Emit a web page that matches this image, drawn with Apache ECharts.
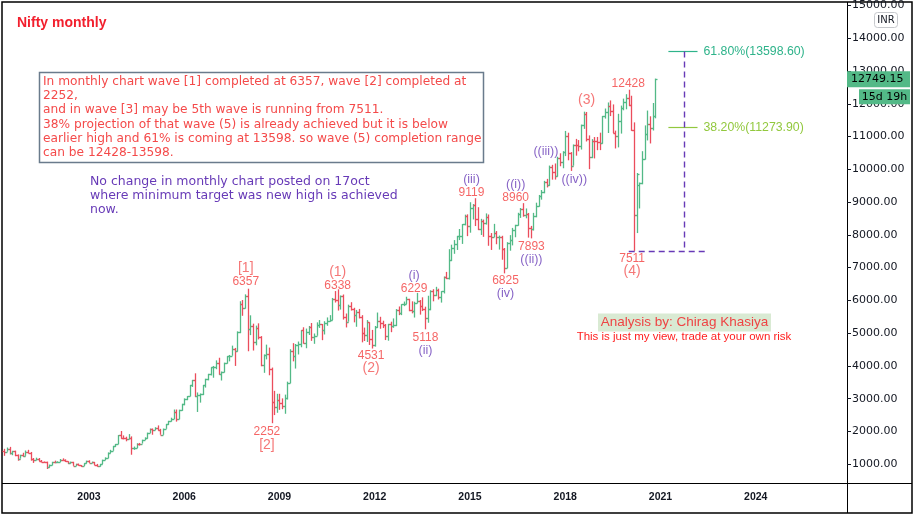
<!DOCTYPE html>
<html><head><meta charset="utf-8">
<script src="https://cdn.jsdelivr.net/npm/echarts@6/dist/echarts.min.js"></script>
<style>html,body{margin:0;padding:0;background:#fff}#c{width:914px;height:515px}</style>
</head><body><div id="c"></div>
<script>
// ---- data: Nifty monthly OHLC, first bar = May 2000, last bar = Nov 2020 ----
const firstMonth = '2000-05';
const opens = [
 1406,1380,1471,1332,1394,1271,1173,1268,
 1263,1371,1352,1148,1126,1167,1107,1073,1053,913,971,1067,
 1059,1075,1142,1129,1084,1028,1058,959,1010,963,951,1026,
 1093,1041,1063,978,934,1006,1134,1185,1356,1418,1555,1615,
 1880,1809,1800,1772,1796,1484,1506,1632,1631,1746,1786,1959,
 2081,2058,2103,2036,1902,2087,2221,2312,2385,2601,2371,2652,
 2837,3001,3074,3403,3558,3071,3128,3143,3414,3588,3745,3955,
 3966,4083,3745,3822,4087,4296,4318,4529,4464,5021,5901,5762,
 6139,5137,5224,4735,5165,4870,4040,4333,4360,3921,2885,2755,
 2959,2874,2763,3021,3474,4449,4291,4636,4662,5084,4712,5033,
 5201,4882,4922,5249,5278,5087,5313,5368,5402,6030,6018,5863,
 6135,5506,5333,5834,5750,5561,5647,5482,5001,4943,5326,4832,
 4624,5199,5385,5296,5248,4924,5279,5229,5259,5703,5620,5880,
 5905,6035,5693,5683,5930,5986,5842,5742,5472,5735,6299,6176,
 6304,6090,6277,6704,6696,7230,7611,7721,7954,7965,8322,8588,
 8283,8809,8902,8491,8182,8434,8369,8533,7971,7949,8066,7935,
 7946,7564,6987,7738,7850,8160,8288,8639,8786,8611,8626,8224,
 8186,8561,8880,9174,9304,9621,9521,10077,9918,9789,10335,10227,
 10531,11028,10493,10114,10739,10736,10714,11357,11681,10930,10387,10877,
 10863,10831,10793,11624,11748,11923,11789,11118,11023,11474,11877,12056,
 12168,11962,11202,8598,9533,9580,10302,11073,11388,11248,11642
];
const highs = [
 1470,1510,1530,1410,1415,1300,1290,1350,
 1420,1440,1375,1190,1200,1190,1130,1085,1080,990,1075,1110,
 1090,1160,1180,1150,1090,1080,1075,1015,1020,975,1030,1110,
 1120,1080,1070,1010,1010,1140,1210,1360,1440,1560,1620,1890,
 2015,1880,1840,1920,1850,1540,1640,1650,1750,1820,1965,2090,
 2090,2130,2185,2080,2090,2230,2325,2420,2670,2670,2665,2845,
 3010,3080,3420,3575,3775,3190,3160,3420,3610,3760,3960,4000,
 4170,4250,3830,4100,4300,4335,4620,4550,5055,5975,6012,6185,
 6357,5545,5290,5230,5300,4910,4350,4650,4560,3950,3240,3150,
 3150,3010,3125,3520,4510,4695,4670,4745,5090,5180,5140,5220,
 5310,4990,5330,5400,5280,5365,5480,5550,6075,6285,6338,6150,
 6180,5600,5870,5945,5775,5710,5740,5550,5170,5400,5330,5100,
 5220,5630,5500,5380,5280,5285,5350,5450,5735,5815,5885,5965,
 6112,6050,5972,5960,6229,6011,6094,5808,6142,6309,6342,6415,
 6358,6282,6730,6870,7563,7700,7841,7968,8180,8330,8617,8626,
 8996,8941,9119,8844,8490,8467,8655,8622,8055,8336,8116,7979,
 7972,7600,7777,7992,8213,8308,8674,8819,8968,8806,8669,8274,
 8672,8982,9218,9368,9649,9709,10115,10138,10179,10384,10490,10553,
 11172,11118,10526,10759,10929,10893,11366,11760,11751,11036,10922,10985,
 10988,11119,11630,11856,12041,12103,11981,11181,11695,11945,12158,12293,
 12430,12246,11433,9889,9598,10554,11341,11794,11619,12025,12769
];
const lows = [
 1257,1380,1300,1275,1245,1108,1170,1225,
 1255,1330,1110,1040,1120,1090,1060,1040,855,900,965,1030,
 1040,1065,1120,1070,1005,1020,950,945,955,920,945,1025,
 1040,1030,970,925,925,1005,1125,1180,1340,1410,1530,1610,
 1780,1760,1700,1760,1290,1440,1490,1570,1630,1740,1780,1950,
 1900,2040,2030,1900,1896,2080,2200,2300,2380,2300,2370,2630,
 2800,2955,3070,3360,3050,2595,2880,3110,3340,3560,3710,3640,
 3900,3730,3555,3800,4070,4140,4310,4000,4440,5000,5530,5750,
 4448,4940,4470,4630,4810,3990,3790,4200,3715,2252,2500,2570,
 2660,2680,2540,2975,3470,4140,3920,4350,4570,4680,4540,4945,
 4765,4675,4920,5160,4786,4960,5225,5350,5400,5935,5690,5720,
 5415,5175,5350,5690,5330,5195,5450,4720,4760,4730,4640,4531,
 4590,5160,5135,5155,4790,4770,5030,5165,5215,5550,5550,5825,
 5890,5670,5605,5477,5910,5566,5675,5118,5318,5700,5972,6130,
 6027,5933,6212,6650,6638,7200,7422,7540,7841,7724,8290,7961,
 8066,8470,8269,8145,7997,7940,8315,7667,7540,7930,7714,7551,
 7241,6825,6980,7517,7679,7927,8280,8518,8555,8506,7916,7893,
 8133,8537,8860,9075,9269,9448,9500,9685,9687,9780,10094,10033,
 10404,10276,9952,10111,10417,10551,10604,11235,10850,10005,10341,10333,
 10584,10586,10785,11549,11108,11625,11107,10637,10670,11091,11802,11832,
 11929,11175,7511,8055,8806,9544,10299,10882,10790,11185,11557
];
const closes = [
 1380,1471,1332,1394,1271,1173,1268,1263,
 1371,1352,1148,1126,1167,1107,1073,1053,913,971,1067,1059,
 1075,1142,1129,1084,1028,1058,959,1010,963,951,1026,1093,
 1041,1063,978,934,1006,1134,1185,1356,1418,1555,1615,1880,
 1809,1800,1772,1796,1484,1506,1632,1631,1746,1786,1959,2081,
 2058,2103,2036,1902,2087,2221,2312,2385,2601,2371,2652,2837,
 3001,3074,3403,3558,3071,3128,3143,3414,3588,3745,3955,3966,
 4083,3745,3822,4087,4296,4318,4529,4464,5021,5901,5762,6139,
 5137,5224,4735,5165,4870,4040,4333,4360,3921,2885,2755,2959,
 2874,2763,3021,3474,4449,4291,4636,4662,5084,4712,5033,5201,
 4882,4922,5249,5278,5087,5313,5368,5402,6030,6018,5863,6135,
 5506,5333,5834,5750,5561,5647,5482,5001,4943,5326,4832,4624,
 5199,5385,5296,5248,4924,5279,5229,5259,5703,5620,5880,5905,
 6035,5693,5683,5930,5986,5842,5742,5472,5735,6299,6176,6304,
 6090,6277,6704,6696,7230,7611,7721,7954,7965,8322,8588,8283,
 8809,8902,8491,8182,8434,8369,8533,7971,7949,8066,7935,7946,
 7564,6987,7738,7850,8160,8288,8639,8786,8611,8626,8224,8186,
 8561,8880,9174,9304,9621,9521,10077,9918,9789,10335,10227,10531,
 11028,10493,10114,10739,10736,10714,11357,11681,10930,10387,10877,10863,
 10831,10793,11624,11748,11923,11789,11118,11023,11474,11877,12056,12168,
 11962,11202,8598,9860,9580,10302,11073,11388,11248,11642,12749.15
];
const lastMonthOnAxis = '2026-11';
const priceTicks = [1000,2000,3000,4000,5000,6000,7000,8000,9000,10000,11000,12000,13000,14000,15000];
const yearTicks = [2003,2006,2009,2012,2015,2018,2021,2024];
const lastPrice = 12749.15;
const countdown = '15d 19h';
const fibLevels = [ // [start month, end month, price, label]
  ['2021-04','2022-03',13598.60,'61.80%(13598.60)'],
  ['2021-04','2022-03',11273.90,'38.20%(11273.90)']
];
const fibBase = { low: 7511, lowFrom: '2020-01', lowTo: '2022-07', vertAt: '2021-10', top: 13598.60 };
const waveLabels = [ // [month, price, rich text]
  ['2008-01', 6357, '{R|[1]}\n{r|6357}'],
  ['2008-10', 2252, '{r|2252}\n{R|[2]}'],
  ['2010-11', 6338, '{R|(1)}\n{r|6338}'],
  ['2011-12', 4531, '{r|4531}\n{R|(2)}'],
  ['2013-05', 6229, '{p|(i)}\n{r|6229}'],
  ['2013-08', 5118, '{r|5118}\n{p|(ii)}'],
  ['2015-03', 9119, '{p|(iii)}\n{r|9119}'],
  ['2016-09', 8968, '{p|((i))}\n{r|8960}'],
  ['2016-12', 7893, '{r|7893}\n{p|((ii))}'],
  ['2016-02', 6825, '{r|6825}\n{p|(iv)}'],
  ['2017-07', 10115, '{p|((iii))}'],
  ['2018-03', 9952, '{p|((iv))}'],
  ['2018-08', 11760, '{R|(3)}'],
  ['2020-01', 12430, '{r|12428}'],
  ['2020-03', 7511, '{r|7511}\n{R|(4)}']
];
// pixel nudges of each wave label from its anchor (layout, not data)
const labelNudge = [[-2,-14],[-4.6,15.4],[0,-10.6],[-1,13.6],[-3,-11],[0.5,15],[-3.8,-12.2],[-7.2,-11.7],[0.6,14.7],[1.1,13.6],[-3.4,-14.2],[3.7,8.7],[2.9,-11.3],[-0.5,-6.3],[-1.9,13.9]];
const noteText = 'In monthly chart wave [1] completed at 6357, wave [2] completed at\n2252,\nand in wave [3] may be 5th wave is running from 7511.\n38% projection of that wave (5) is already achieved but it is below\nearlier high and 61% is coming at 13598. so wave (5) completion range\ncan be 12428-13598.';
const purpleText = 'No change in monthly chart posted on 17oct\nwhere minimum target was new high is achieved\nnow.';

// ---- build categories ----
const cats = [];
{
  let y = +firstMonth.slice(0,4), m = +firstMonth.slice(5);
  while (true) {
    const s = y + '-' + String(m).padStart(2,'0');
    cats.push(s);
    if (s === lastMonthOnAxis) break;
    m++; if (m > 12) { m = 1; y++; }
  }
}
const ci = s => cats.indexOf(s);
const bars = closes.map((c, i) => [i, opens[i], highs[i], lows[i], c]);

const UP = '#53b987', DOWN = '#eb4d5c', RED = '#f23f3f', PURPLE = '#673ab7', INK = '#131722';

const chart = echarts.init(document.getElementById('c'), null, {renderer: 'canvas'});

const option = {
  animation: false,
  backgroundColor: '#ffffff',
  grid: [
    {left: 3, right: 67, top: 5, bottom: 18},
    {left: 3, right: 67, top: 3, bottom: 32}
  ],
  xAxis: [
    {gridIndex: 0, type: 'category', data: cats, boundaryGap: true, show: false},
    {gridIndex: 1, type: 'category', data: cats, boundaryGap: true,
      axisLine: {show: false}, axisTick: {show: false}, splitLine: {show: false},
      axisLabel: {
        interval: (i, v) => v.slice(5) === '01' && yearTicks.includes(+v.slice(0,4)),
        formatter: v => v.slice(0,4),
        color: INK, fontFamily: 'Liberation Sans', fontWeight: 'bold', fontSize: 10.5, margin: 9
      }}
  ],
  yAxis: [
    {gridIndex: 0, type: 'value', position: 'right', min: 0, max: 15000, interval: 1000,
      splitLine: {show: false}, axisLine: {show: false},
      axisTick: {show: true, length: 4, customValues: priceTicks, lineStyle: {color: INK}},
      axisLabel: {customValues: priceTicks, formatter: v => v.toFixed(2), color: INK,
        fontFamily: 'DejaVu Sans', fontSize: 11, margin: 5}},
    {gridIndex: 1, type: 'value', show: false}
  ],
  series: [
    {
      type: 'custom', xAxisIndex: 0, yAxisIndex: 0, data: bars, silent: true,
      encode: {x: 0, y: [1,2,3,4]},
      renderItem: (params, api) => {
        const i = api.value(0), o = api.value(1), h = api.value(2), l = api.value(3), c = api.value(4);
        const pH = api.coord([i, h]), pL = api.coord([i, l]), pO = api.coord([i, o]), pC = api.coord([i, c]);
        const x = Math.round(pH[0]) + 0.5;
        const col = c >= o ? UP : DOWN;
        const yo = Math.round(pO[1]) + 0.5, yc = Math.round(pC[1]) + 0.5;
        const st = {stroke: col, lineWidth: 1.3};
        return {type: 'group', children: [
          {type: 'line', shape: {x1: x, y1: pH[1], x2: x, y2: pL[1]}, style: st},
          {type: 'line', shape: {x1: x - 2, y1: yo, x2: x, y2: yo}, style: st},
          {type: 'line', shape: {x1: x, y1: yc, x2: x + 2, y2: yc}, style: st}
        ]};
      }
    },
    {
      type: 'scatter', xAxisIndex: 0, yAxisIndex: 0, silent: true, symbolSize: 1,
      itemStyle: {color: 'rgba(0,0,0,0)'},
      data: waveLabels.map((w, k) => ({
        value: [ci(w[0]), w[1]],
        label: {show: true, position: 'inside', formatter: w[2], offset: labelNudge[k],
          rich: {
            r: {color: RED, fontFamily: 'Liberation Sans', fontSize: 12, lineHeight: 13},
            R: {color: '#f25555', fontFamily: 'Liberation Sans', fontSize: 14, lineHeight: 13},
            p: {color: PURPLE, fontFamily: 'Liberation Sans', fontSize: 12.5, lineHeight: 13}
          }}
      })),
      markLine: {
        silent: true, symbol: ['none','none'],
        data: [
          ...fibLevels.map((f, k) => [
            {coord: [ci(f[0]), f[2]],
             lineStyle: {color: k === 0 ? '#2eb38a' : '#92c83e', width: 1.2, type: 'solid'},
             label: {show: true, position: 'end', distance: 6, formatter: f[3],
               color: k === 0 ? '#2eb38a' : '#92c83e', fontFamily: 'Liberation Sans', fontSize: 12.3}},
            {coord: [ci(f[1]), f[2]]}
          ]),
          [
            {coord: [ci(fibBase.vertAt), fibBase.top],
             lineStyle: {color: PURPLE, width: 1.4, type: [6, 4]}, label: {show: false}},
            {coord: [ci(fibBase.vertAt), fibBase.low]}
          ],
          [
            {coord: [ci(fibBase.lowFrom), fibBase.low],
             lineStyle: {color: PURPLE, width: 1.4, type: [6, 4]}, label: {show: false}},
            {coord: [ci(fibBase.lowTo), fibBase.low]}
          ]
        ]
      }
    }
  ],
  graphic: [
    {type: 'text', silent: true, style: {text: 'Nifty monthly', x: 17, y: 23, verticalAlign: 'middle',
      fill: '#f21f2d', fontFamily: 'Liberation Sans', fontWeight: 'bold', fontSize: 14}},
    {type: 'rect', silent: true, shape: {x: 39.5, y: 72.5, width: 444, height: 90},
      style: {fill: '#fff', stroke: '#6a7b8c', lineWidth: 1.5}},
    {type: 'text', silent: true, style: {text: noteText, x: 43, y: 75, verticalAlign: 'top', lineHeight: 14.1,
      fill: '#f44a4a', fontFamily: 'DejaVu Sans', fontSize: 12.2}},
    {type: 'text', silent: true, style: {text: purpleText, x: 90, y: 175, verticalAlign: 'top', lineHeight: 13.8,
      fill: PURPLE, fontFamily: 'DejaVu Sans', fontSize: 12.5}},
    {type: 'rect', silent: true, shape: {x: 598, y: 313.5, width: 173, height: 18}, style: {fill: '#d9ead3'}},
    {type: 'text', silent: true, style: {text: 'Analysis by: Chirag Khasiya', x: 684.5, y: 322.7, align: 'center',
      verticalAlign: 'middle', fill: '#ee4444', fontFamily: 'Liberation Sans', fontSize: 13.5}},
    {type: 'text', silent: true, style: {text: 'This is just my view, trade at your own risk', x: 684, y: 337,
      align: 'center', verticalAlign: 'middle', fill: '#ff1f1f', fontFamily: 'Liberation Sans', fontSize: 11.5}},
    {type: 'rect', silent: true, shape: {x: 874.5, y: 12.5, width: 23, height: 15, r: 3},
      style: {fill: '#fff', stroke: '#c6c8cc', lineWidth: 1}},
    {type: 'text', silent: true, style: {text: 'INR', x: 886, y: 20.5, align: 'center', verticalAlign: 'middle',
      fill: INK, fontFamily: 'DejaVu Sans', fontSize: 10}},
    {type: 'line', silent: true, shape: {x1: 2, y1: 483.5, x2: 912, y2: 483.5}, style: {stroke: '#000', lineWidth: 1}},
    {type: 'line', silent: true, shape: {x1: 847.5, y1: 2, x2: 847.5, y2: 513}, style: {stroke: '#000', lineWidth: 1}},
    {type: 'rect', silent: true, shape: {x: 2, y: 2, width: 910, height: 511},
      style: {fill: 'none', stroke: '#000', lineWidth: 1.5}}
  ]
};
chart.setOption(option);

// last-price tag and countdown tag, placed from the price scale
const yLast = chart.convertToPixel({yAxisIndex: 0}, lastPrice);
chart.setOption({graphic: [
  ...option.graphic,
  {type: 'rect', silent: true, z: 100, shape: {x: 847, y: yLast - 8, width: 63, height: 16}, style: {fill: UP}},
  {type: 'text', silent: true, z: 101, style: {text: lastPrice.toFixed(2), x: 851, y: yLast, align: 'left',
    verticalAlign: 'middle', fill: '#000', fontFamily: 'DejaVu Sans', fontSize: 11}},
  {type: 'rect', silent: true, z: 100, shape: {x: 859, y: yLast + 10, width: 51, height: 15}, style: {fill: UP}},
  {type: 'text', silent: true, z: 101, style: {text: countdown, x: 884.5, y: yLast + 17.5, align: 'center',
    verticalAlign: 'middle', fill: '#000', fontFamily: 'DejaVu Sans', fontSize: 11}}
]});
</script>
</body></html>
